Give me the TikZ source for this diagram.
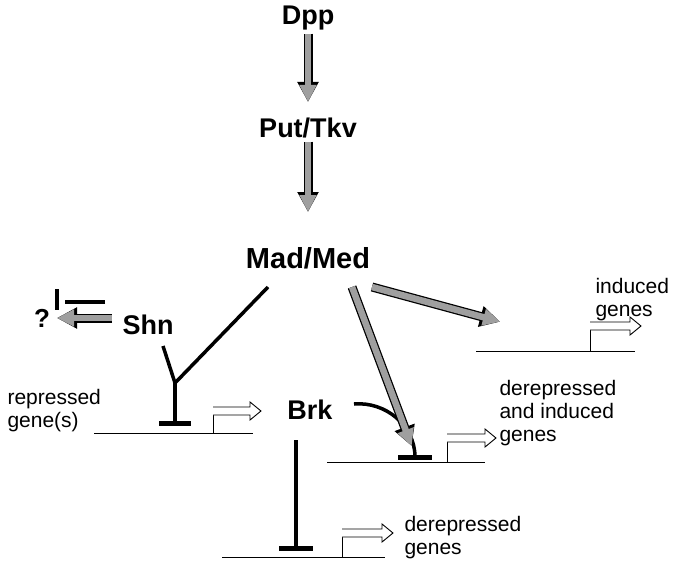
\documentclass[tikz,border=0pt]{standalone}
\usepackage{fontspec}
\setmainfont{Liberation Sans}
\usetikzlibrary{arrows.meta}
% promoter with open arrow: #1 = x, #2 = gene line y, #3 = arrow y, #4 = arrow tip x
\newcommand*\promoter[4]{%
    \draw[line width=0.9pt] (#1,#2) -- (#1,#3+4);%
    \draw[line width=0.9pt,fill=white] (#1,#3-4) -- (#4-11,#3-4) -- (#4-11,#3-9)
        -- (#4,#3) -- (#4-11,#3+9) -- (#4-11,#3+4) -- (#1,#3+4);%
}
\begin{document}
\begin{tikzpicture}
    [x=1pt,y=-1pt,
        big label/.style={font=\fontsize{27}{30}\selectfont\bfseries},
        small label/.style={font=\fontsize{21}{23}\selectfont,align=left,anchor=west},
        gray arrow/.style={%
            preaction={draw=black,line width=9pt,-{Triangle[length=20pt,width=20pt]}},%
            draw=gray!75,line width=6.5pt,-{Triangle[length=17pt,width=16pt]},%
            shorten >=1pt%
        },%
        stroke/.style={line width=3.5pt},%
        bar/.style={line width=5pt},%
        gene/.style={line width=1pt}%
    ]
    \useasboundingbox (0,0) rectangle (685,575);
%
    \node[big label] (dpp) at (308,18) {Dpp};
    \node[big label] (put) at (308,128) {Put/Tkv};
    \node[big label,font=\fontsize{29}{32}\selectfont\bfseries] (mad) at (308,258) {Mad/Med};
    \node[big label] (shn) at (148,325) {Shn};
    \node[big label] (brk) at (310,410) {Brk};
    \node[font=\fontsize{26}{28}\selectfont\bfseries] (quest) at (42,318) {?};
%
    \draw[gray arrow] (dpp.south) -- (308,103);
    \draw[gray arrow] (put.south) -- (308,213);
    \draw[gray arrow] (112,318) -- (56,318);
    \draw[stroke] (105,302) -- (65,302);
    \draw[bar,line width=3.5pt] (57,289) -- (57,310);
%
    % repressed gene(s)
    \coordinate (fork) at (175,383);
    \draw[stroke] (268,287) -- (fork);
    \draw[stroke] (163,346) -- (fork);
    \draw[stroke] (fork) -- (175,423);
    \draw[bar] (159,423) -- (191,423);
    \draw[gene] (94,433) -- (253,433);
    \promoter{213}{433}{411}{261}
    \node[small label] (rep) at (4,411) {repressed\\gene(s)};
%
    % Brk targets
    \draw[stroke] (354,404) to[out=5,in=90] (415,457);
    \draw[bar] (398,457) -- (432,457);
    \draw[gene] (327,462) -- (485,462);
    \promoter{447}{462}{438}{496}
    \node[small label] (derind) at (496,413) {derepressed\\and induced\\genes};
    \draw[gray arrow] (352,287) -- (412,447);
%
    \draw[gray arrow] (372,287) -- (501,322);
    \draw[gene] (476,351) -- (635,351);
    \promoter{590}{351}{326}{641}
    \node[small label] (ind) at (592,300) {induced\\genes};
%
    \draw[stroke] (296,440) -- (296,548);
    \draw[bar] (279,548) -- (313,548);
    \draw[gene] (222,557) -- (385,557);
    \promoter{342}{557}{533}{393}
    \node[small label] (der) at (401,538) {derepressed\\genes};
\end{tikzpicture}
\end{document}
